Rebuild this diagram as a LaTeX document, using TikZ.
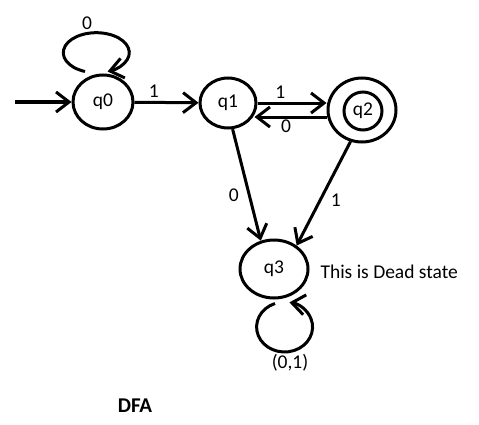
\documentclass[tikz,border=0pt]{standalone}
\usepackage{fontspec}
\setmainfont{Carlito}
\usetikzlibrary{arrows.meta,shapes.geometric}

\tikzset{
    state/.style={draw, ellipse, line width=3pt, inner sep=0pt},
    arr/.style={line width=3pt, -{Straight Barb[length=13pt,width=20pt]}},
    lbl/.style={inner sep=2pt},
}

\begin{document}
\begin{tikzpicture}[x=1pt,y=1pt,font=\fontsize{19.5}{23}\selectfont]
    \useasboundingbox (0,0) rectangle (479,424);

    % Draw the states
    \node[state, minimum width=60pt, minimum height=54pt] (q0) at (103,322) {q0};
    \node[state, minimum width=56pt, minimum height=50pt] (q1) at (228,321) {q1};
    \node[state, minimum width=68pt, minimum height=64pt] (q2) at (362,314) {};
    \node[state, circle, minimum size=38pt] (q2in) at (363,313) {q2};
    \node[state, minimum width=68pt, minimum height=58pt] (q3) at (274,155) {q3};
    \coordinate (start) at (15,322);

    % Draw the transitions
    \draw[arr] (start) -- (q0.west);
    \draw[arr] ([shift={(-18,2)}]q0.north) arc[start angle=-110, end angle=-430, x radius=33pt, y radius=20pt];
    \draw[arr] (q0) -- (q1) node[lbl, pos=0.3, above=1pt] {1};
    \draw[arr] (q1.east) -- (q1.east -| q2.west) node[lbl, pos=0.33, above=1pt] {1};
    \draw[arr] ([yshift=-7pt]q2.west) -- ([xshift=-3pt,yshift=-14pt]q1.east) node[lbl, pos=0.56, below=-1pt] {0};
    \draw[arr] (q1.-80) -- (q3.115) node[lbl, pos=0.59, left=7pt] {0};
    \draw[arr] (q2.-110) -- (q3.46) node[lbl, pos=0.56, right=7pt] {1};
    \draw[arr] ([shift={(1,-4)}]q3.south) arc[start angle=110, end angle=440, x radius=28pt, y radius=25pt];

    % Add the labels
    \node[lbl] (loop0) at (87,401) {0};
    \node[lbl] (loop3) at (290,61) {(0,1)};
    \node[anchor=west] (dead) at (317,152) {This is Dead state};
    \node[font=\bfseries\fontsize{21}{25}\selectfont] (title) at (135,18) {DFA};
\end{tikzpicture}
\end{document}
